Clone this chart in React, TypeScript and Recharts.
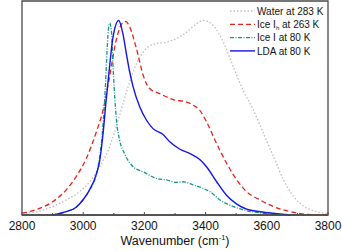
import {
  Legend,
  Line,
  LineChart,
  ReferenceArea,
  XAxis,
  YAxis,
} from "recharts";

// wavenumber (cm-1) / normalised intensity
const waterX = [2800, 2857, 2900, 2944, 2988, 3021, 3054, 3086, 3108, 3130, 3152, 3174, 3196, 3228, 3272, 3305, 3338, 3370, 3394, 3425, 3458, 3491, 3523, 3556, 3589, 3622, 3655, 3688, 3720, 3764, 3800];
const waterY = [0.009, 0.02, 0.043, 0.077, 0.12, 0.17, 0.248, 0.35, 0.453, 0.573, 0.684, 0.778, 0.838, 0.877, 0.889, 0.906, 0.94, 0.983, 1.0, 0.974, 0.889, 0.76, 0.64, 0.54, 0.42, 0.3, 0.18, 0.094, 0.046, 0.017, 0.007];

const iceIhX = [2800, 2857, 2900, 2944, 2977, 3010, 3043, 3065, 3086, 3108, 3130, 3139, 3152, 3174, 3196, 3217, 3250, 3294, 3338, 3360, 3381, 3403, 3436, 3469, 3502, 3534, 3578, 3622, 3677, 3731, 3800];
const iceIhY = [0.01, 0.034, 0.068, 0.128, 0.197, 0.29, 0.427, 0.54, 0.71, 0.9, 0.99, 0.995, 0.966, 0.855, 0.718, 0.65, 0.624, 0.593, 0.58, 0.564, 0.538, 0.479, 0.367, 0.265, 0.18, 0.12, 0.077, 0.043, 0.017, 0.003, 0];

const iceIX = [2900, 2944, 2977, 2999, 3021, 3043, 3054, 3065, 3073, 3078, 3084, 3087, 3093, 3097, 3103, 3110, 3119, 3135, 3163, 3196, 3239, 3272, 3305, 3327, 3360, 3392, 3414, 3447, 3491, 3534, 3589, 3655];
const iceIY = [0, 0.017, 0.04, 0.077, 0.13, 0.21, 0.3, 0.47, 0.675, 0.846, 0.975, 0.986, 0.93, 0.78, 0.607, 0.47, 0.385, 0.316, 0.248, 0.222, 0.188, 0.18, 0.168, 0.171, 0.154, 0.137, 0.12, 0.077, 0.043, 0.022, 0.009, 0];

const ldaX = [2900, 2944, 2977, 2999, 3021, 3043, 3054, 3065, 3075, 3086, 3097, 3116, 3130, 3141, 3152, 3163, 3185, 3207, 3228, 3261, 3283, 3316, 3349, 3381, 3403, 3436, 3469, 3502, 3534, 3578, 3633, 3677];
const ldaY = [0, 0.017, 0.04, 0.077, 0.13, 0.21, 0.28, 0.42, 0.59, 0.76, 0.91, 1.0, 0.93, 0.83, 0.735, 0.66, 0.555, 0.487, 0.444, 0.414, 0.376, 0.338, 0.316, 0.285, 0.248, 0.171, 0.1, 0.056, 0.03, 0.017, 0.007, 0];

const xTicks = [2800, 2900, 3000, 3100, 3200, 3300, 3400, 3500, 3600, 3700, 3800];

const toPoints = (xs: number[], ys: number[]) => xs.map((x, i) => ({ x, y: ys[i] }));

const series = [
  { key: "water", label: "Water at 283 K", data: toPoints(waterX, waterY), color: "#bdbdbd", dash: "1.5 2", width: 1.3 },
  { key: "iceIh", label: "Ice Ih at 263 K", data: toPoints(iceIhX, iceIhY), color: "#e8231c", dash: "5 3", width: 1.3 },
  { key: "iceI", label: "Ice I at 80 K", data: toPoints(iceIX, iceIY), color: "#15958a", dash: "4 1.5 1 1.5", width: 1.3 },
  { key: "lda", label: "LDA at 80 K", data: toPoints(ldaX, ldaY), color: "#1414e6", dash: undefined, width: 1.4 },
];

const FONT = "'Liberation Sans', Arial, sans-serif";
const AXIS = "#4a4a4a";

function XTick({ x, y, payload }: any) {
  const major = payload.value % 200 === 0;
  return (
    <g>
      <line x1={x} x2={x} y1={y} y2={y - (major ? 3 : 2)} stroke={AXIS} strokeWidth={1} />
      {major && (
        <text x={x} y={y + 15} textAnchor="middle" fontSize={12} fill="#111" fontFamily={FONT}>
          {payload.value}
        </text>
      )}
    </g>
  );
}

function LegendBox() {
  return (
    <svg width={100} height={56} style={{ overflow: "visible", display: "block" }}>
      {series.map((s, i) => {
        const cy = 8 + i * 13.3;
        return (
          <g key={s.key}>
            <line x1={2} x2={27} y1={cy} y2={cy} stroke={s.color} strokeWidth={s.width} strokeDasharray={s.dash} />
            <text x={29} y={cy + 3.6} fontSize={10} fill="#111" fontFamily={FONT}>
              {s.key === "iceIh" ? (
                <>
                  Ice I<tspan fontSize={6} dy={2}>h</tspan>
                  <tspan dy={-2}> at 263 K</tspan>
                </>
              ) : (
                s.label
              )}
            </text>
          </g>
        );
      })}
    </svg>
  );
}

export default function App() {
  return (
    <div style={{ position: "absolute", left: 0, top: 0, background: "#fff" }}>
      <LineChart width={342} height={251} margin={{ top: 1, right: 14, bottom: 0, left: 22 }}>
        <XAxis
          dataKey="x"
          type="number"
          domain={[2800, 3800]}
          ticks={xTicks}
          interval={0}
          height={36}
          tickSize={0}
          tickMargin={0}
          tickLine={false}
          tick={<XTick />}
          axisLine={{ stroke: AXIS, strokeWidth: 1.3 }}
          allowDuplicatedCategory={false}
          label={{
            content: () => (
              <text x={175} y={245} textAnchor="middle" fontSize={12.5} fill="#111" fontFamily={FONT}>
                Wavenumber (cm<tspan fontSize={7.5} dy={-5}>-1</tspan>
                <tspan dy={5}>)</tspan>
              </text>
            ),
          }}
        />
        <YAxis
          type="number"
          domain={[0, 1.1]}
          width={0}
          tick={false}
          tickLine={false}
          axisLine={{ stroke: AXIS, strokeWidth: 1.3 }}
          label={{
            content: () => (
              <text x={12} y={110} transform="rotate(-90 12 110)" textAnchor="middle" fontSize={12.5} fill="#111" fontFamily={FONT}>
                Intensity (a.u.)
              </text>
            ),
          }}
        />
        <ReferenceArea x1={2800} x2={3800} y1={0} y2={1.1} fill="none" stroke={AXIS} strokeWidth={1.3} ifOverflow="visible" />
        {series.map((s) => (
          <Line
            key={s.key}
            data={s.data}
            dataKey="y"
            type="monotone"
            stroke={s.color}
            strokeWidth={s.width}
            strokeDasharray={s.dash}
            dot={false}
            activeDot={false}
            isAnimationActive={false}
          />
        ))}
        <Legend
          verticalAlign="middle"
          align="center"
          layout="vertical"
          content={() => <LegendBox />}
          wrapperStyle={{ left: 228, top: 3, width: 100, height: 56 }}
        />
      </LineChart>
    </div>
  );
}
